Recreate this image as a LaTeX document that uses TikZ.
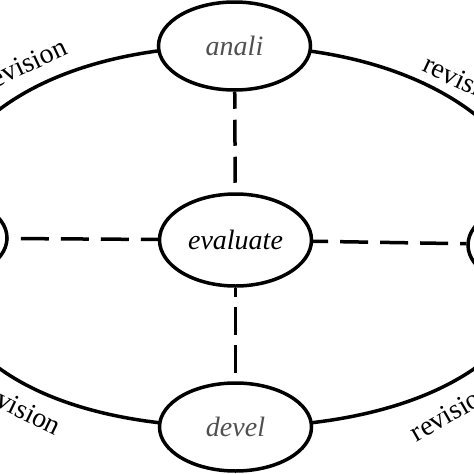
\documentclass[tikz,border=0pt]{standalone}
\usepackage{fontspec}
\setmainfont{Liberation Serif}
\usetikzlibrary{shapes.geometric,backgrounds}
\definecolor{txtgray}{HTML}{505050}
\begin{document}
\begin{tikzpicture}[x=1pt,y=-1pt,
  lw/.style={line width=3.5pt},
  stage/.style={ellipse,draw,lw,fill=white,minimum width=152pt,minimum height=88pt,inner sep=0pt,
    font=\fontsize{28}{34}\selectfont\itshape},
  loopline/.style={lw},
  dashline/.style={lw,dash pattern=on 28pt off 12pt},
  lbl/.style={font=\fontsize{28}{34}\selectfont,anchor=base,inner sep=0pt}]
\useasboundingbox (0,0) rectangle (474,474);
\node[stage,text=txtgray] (anali) at (234.5,46) {anali};
\node[stage,minimum height=92pt] (evaluate) at (235.5,240) {evaluate};
\node[stage,text=txtgray] (devel) at (235.5,427) {devel};
\node[stage] (leftn) at (-69,238) {};
\node[stage] (rightn) at (544,245) {};
\begin{pgfonlayer}{background}
\draw[loopline] (anali.center) .. controls (50,46) and (-69,125) .. (leftn.center);
\draw[loopline] (anali.center) .. controls (418,46) and (544,130) .. (rightn.center);
\draw[loopline] (devel.center) .. controls (55,427) and (-69,362) .. (leftn.center);
\draw[loopline] (devel.center) .. controls (420,427) and (544,358) .. (rightn.center);
\end{pgfonlayer}
\draw[dashline,dash phase=11pt] (evaluate) -- (leftn);
\draw[dashline,dash phase=13pt] (evaluate) -- (rightn);
\draw[dashline,dash pattern=on 26pt off 11pt,dash phase=9pt] (anali) -- (evaluate);
\draw[dashline,dash pattern=on 28pt off 10pt,dash phase=19pt] (evaluate) -- (devel);
\node[lbl,rotate=25] (lbl1) at (28,73) {revision};
\node[lbl,rotate=-25] (lbl2) at (462,90) {revision};
\node[lbl,rotate=-26] (lbl3) at (15,416) {revision};
\node[lbl,rotate=30] (lbl4) at (456,420) {revision};
\end{tikzpicture}
\end{document}
